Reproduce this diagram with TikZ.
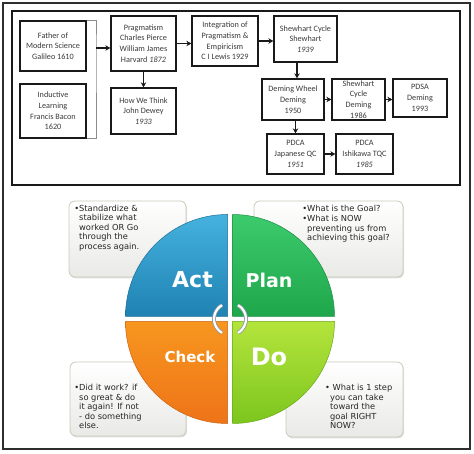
\documentclass[tikz,border=0pt]{standalone}
\usepackage{fontspec}
\setmainfont{Carlito}
\newfontfamily\notefont{DejaVu Sans}
\usetikzlibrary{calc, arrows.meta, shadows}
\definecolor{FrameInk}{HTML}{2E2E2E}
\definecolor{BoxInk}{HTML}{3A3A3A}
\definecolor{NoteEdge}{HTML}{C9CBB8}
\definecolor{NoteFill}{HTML}{E9E9E6}
\definecolor{ActTop}{HTML}{45B2DE}
\definecolor{ActBottom}{HTML}{1F82B2}
\definecolor{PlanTop}{HTML}{3CCB6C}
\definecolor{PlanBottom}{HTML}{1FA64B}
\definecolor{CheckTop}{HTML}{F7961F}
\definecolor{CheckBottom}{HTML}{EE7418}
\definecolor{DoTop}{HTML}{B4E43C}
\definecolor{DoBottom}{HTML}{7CC61E}
\definecolor{ArcRim}{HTML}{8C9AA6}

\tikzset{
    timebox/.style={draw=black!90, line width=1.3pt, fill=white, text=BoxInk, align=center,
        inner sep=0.5pt, font=\fontsize{8.2}{10.7}\selectfont},
    flowarrow/.style={-{Stealth[length=5pt, width=5.5pt]}, line width=1.4pt, black!90},
    notebox/.style={rounded corners=6pt, draw=NoteEdge, line width=0.8pt, top color=white,
        bottom color=NoteFill, drop shadow={shadow xshift=1pt, shadow yshift=-1.5pt, opacity=0.25}},
    notetext/.style={anchor=north west, inner sep=0pt, align=left, text=black!85,
        font=\notefont\fontsize{8.3}{9.5}\selectfont},
    cyclelabel/.style={text=white, inner sep=0pt}
}

% one quarter of the cycle wheel: start angle, offset, top colour, bottom colour
\newcommand{\cyclequarter}[4]{
    \shade[top color=#3, bottom color=#4, draw=#4!85!black, line width=0.5pt]
        ($(hub)+(#2)$) -- ++(#1:102) arc[start angle=#1, end angle=#1+90, radius=102] -- cycle;
}

\begin{document}
\begin{tikzpicture}[x=1pt, y=1pt]
    \useasboundingbox (0,0) rectangle (474,454);
    \draw[FrameInk, line width=1.8pt] (3,5) rectangle (470,451);
    \draw[black!90, line width=1.5pt] (12,269) rectangle (460,443);

    % Timeline
    \node[timebox, minimum width=66pt, minimum height=50pt] (galileo) at (53,408) {Father of\\Modern Science\\Galileo 1610};
    \node[timebox, minimum width=66pt, minimum height=54pt] (bacon) at (53,343) {Inductive\\Learning\\Francis Bacon\\1620};
    \node[timebox, minimum width=65pt, minimum height=55pt] (prag) at (143.5,410.5) {Pragmatism\\Charles Pierce\\William James\\Harvard \textit{1872}};
    \node[timebox, minimum width=65pt, minimum height=46pt] (dewey) at (143.5,343) {How We Think\\John Dewey\\\textit{1933}};
    \node[timebox, minimum width=66pt, minimum height=50pt] (integ) at (225,413) {Integration of\\Pragmatism \&\\Empiricism\\C I Lewis 1929};
    \node[timebox, minimum width=63pt, minimum height=46pt] (shew39) at (305.5,415) {Shewhart Cycle\\Shewhart\\\textit{1939}};
    \node[timebox, minimum width=62pt, minimum height=41pt] (wheel) at (293,354.5) {Deming Wheel\\Deming\\1950};
    \node[timebox, minimum width=53pt, minimum height=41pt, inner ysep=0pt] (shew86) at (358.5,354.5) {Shewhart\\Cycle\\Deming\\1986};
    \node[timebox, minimum width=54pt, minimum height=38pt] (pdsa) at (420,356) {PDSA\\Deming\\1993};
    \node[timebox, minimum width=57pt, minimum height=40pt] (pdcaj) at (295.5,300) {PDCA\\Japanese QC\\\textit{1951}};
    \node[timebox, minimum width=57pt, minimum height=40pt] (pdcai) at (364.5,300) {PDCA\\Ishikawa TQC\\\textit{1985}};

    \coordinate (fork) at (96,406);
    \draw[black!45, line width=0.8pt] (galileo.north east) -| (fork) |- (bacon.south east);
    \draw[flowarrow] (fork) -- (fork -| prag.west);
    \draw[flowarrow] (prag) -- (dewey);
    \draw[flowarrow] (prag.east) -- (prag.east -| integ.west);
    \draw[flowarrow] (integ.east) -- (integ.east -| shew39.west);
    \draw[flowarrow] ([xshift=-8.5pt]shew39.south) -- ([xshift=-8.5pt]shew39.south |- wheel.north);
    \draw[flowarrow] (wheel.east) -- (wheel.east -| shew86.west);
    \draw[flowarrow] (shew86.east) -- (shew86.east -| pdsa.west);
    \draw[flowarrow] (pdcaj.north |- wheel.south) -- (pdcaj.north);
    \draw[flowarrow] (pdcaj) -- (pdcai);

    % Notes round the wheel
    \node[notebox, minimum width=117pt, minimum height=76pt] (actnote) at (127.5,215) {};
    \node[notebox, minimum width=149pt, minimum height=76pt] (plannote) at (328.5,215) {};
    \node[notebox, minimum width=116pt, minimum height=74pt] (checknote) at (128,55) {};
    \node[notebox, minimum width=117pt, minimum height=75pt] (donote) at (344.5,54.5) {};

    % PDCA wheel
    \coordinate (hub) at (230,135);
    \cyclequarter{90}{-2.5,2.5}{ActTop}{ActBottom}
    \cyclequarter{0}{2.5,2.5}{PlanTop}{PlanBottom}
    \cyclequarter{180}{-2.5,-2.5}{CheckTop}{CheckBottom}
    \cyclequarter{270}{2.5,-2.5}{DoTop}{DoBottom}
    \foreach \from in {120,-60}
        \draw[ArcRim, line width=0.8pt, double=white, double distance=2.2pt]
            ($(hub)+(\from:16)$) arc[start angle=\from, end angle=\from+120, radius=16];

    \node[cyclelabel, font=\notefont\bfseries\fontsize{22}{22}\selectfont] (actlabel) at (192.5,174) {Act};
    \node[cyclelabel, font=\notefont\bfseries\fontsize{19}{19}\selectfont] (planlabel) at (269,174) {Plan};
    \node[cyclelabel, font=\notefont\bfseries\fontsize{15}{15}\selectfont] (checklabel) at (190,97) {Check};
    \node[cyclelabel, font=\notefont\bfseries\fontsize{24}{24}\selectfont] (dolabel) at (269,97) {Do};

    \node[notetext] (acttext) at (79,249) {\llap{•}Standardize \&\\stabilize what\\worked OR Go\\through the\\process again.};
    \node[notetext] (plantext) at (307,249) {\llap{•}What is the Goal?\\[1pt]\llap{•}What is NOW\\preventing us from\\achieving this goal?};
    \node[notetext] (checktext) at (79,70) {\llap{•}Did it work? if\\so great \& do\\it again! If not\\- do something\\else.};
    \node[notetext] (dotext) at (330,70) {\hspace*{-5pt}• What is 1 step\\you can take\\toward the\\goal RIGHT\\NOW?};
\end{tikzpicture}
\end{document}
